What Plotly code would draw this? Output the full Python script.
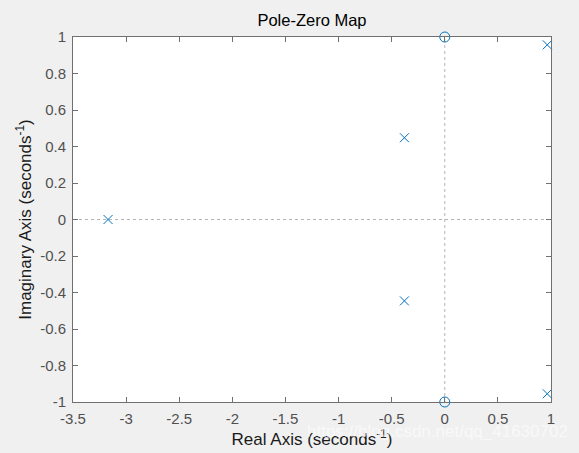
import plotly.graph_objects as go

# Data
pole_re = [-3.17, -0.38, -0.38, 0.965, 0.965]
pole_im = [0.0, 0.448, -0.446, 0.957, -0.955]
zero_re = [0.0, 0.0]
zero_im = [1.0, -1.0]
x_ticks = [-3.5, -3, -2.5, -2, -1.5, -1, -0.5, 0, 0.5, 1]
y_ticks = [-1, -0.8, -0.6, -0.4, -0.2, 0, 0.2, 0.4, 0.6, 0.8, 1]

blue = "#0072BD"
axis_col = "#707070"
font_fam = "Liberation Sans, Arial, sans-serif"

fig = go.Figure()

# dotted reference lines through origin
fig.add_trace(go.Scatter(x=[x_ticks[0], x_ticks[-1]], y=[0, 0], mode="lines",
                         line=dict(color="#b4b4b4", width=1, dash="dot"),
                         hoverinfo="skip", showlegend=False))
fig.add_trace(go.Scatter(x=[0, 0], y=[y_ticks[0], y_ticks[-1]], mode="lines",
                         line=dict(color="#b4b4b4", width=1, dash="dot"),
                         hoverinfo="skip", showlegend=False))

fig.add_trace(go.Scatter(x=pole_re, y=pole_im, mode="markers", name="Poles",
                         marker=dict(symbol="x-thin-open", size=9,
                                     line=dict(color=blue, width=1), color=blue),
                         cliponaxis=False, showlegend=False))
fig.add_trace(go.Scatter(x=zero_re, y=zero_im, mode="markers", name="Zeros",
                         marker=dict(symbol="circle-open", size=10,
                                     line=dict(color=blue, width=1), color=blue),
                         cliponaxis=False, showlegend=False))

axis_common = dict(showgrid=False, zeroline=False, showline=True, linecolor=axis_col,
                   linewidth=1, mirror="allticks", ticks="inside", ticklen=5,
                   tickcolor=axis_col, tickwidth=1, automargin=False,
                   tickfont=dict(family=font_fam, size=15, color="#505050"))

fig.update_xaxes(range=[-3.5, 1], tickvals=x_ticks,
                 ticktext=[f"{v:g}" for v in x_ticks],
                 ticklabelstandoff=3,
                 title=dict(text="Real Axis (seconds<sup>-1</sup>)",
                            font=dict(family=font_fam, size=17, color="#1a1a1a"),
                            standoff=4),
                 **axis_common)
fig.update_yaxes(range=[-1, 1], tickvals=y_ticks,
                 ticktext=[f"{v:g}" for v in y_ticks],
                 ticklabelstandoff=3,
                 title=dict(text="Imaginary Axis (seconds<sup>-1</sup>)",
                            font=dict(family=font_fam, size=17, color="#1a1a1a"),
                            standoff=4),
                 **axis_common)

fig.add_annotation(text="https://blog.csdn.net/qq_41630702", xref="paper", yref="paper",
                   x=1.04, y=-0.082, xanchor="right", yanchor="middle", showarrow=False,
                   font=dict(family=font_fam, size=17, color="rgba(255,255,255,0.6)"))

fig.update_layout(
    width=579, height=453,
    margin=dict(l=73, r=28, t=37, b=51, autoexpand=False),
    paper_bgcolor="#f0f0f0", plot_bgcolor="#ffffff",
    title=dict(text="Pole-Zero Map", x=0.5, xref="paper", y=1 - 20 / 453,
               yref="container", yanchor="middle",
               font=dict(family=font_fam, size=16.5, color="#000000")),
    showlegend=False,
)

fig.write_html("out.html", config={"displayModeBar": False},
               post_script="document.body.style.margin='0';"
                           "document.body.style.background='#f0f0f0';")
